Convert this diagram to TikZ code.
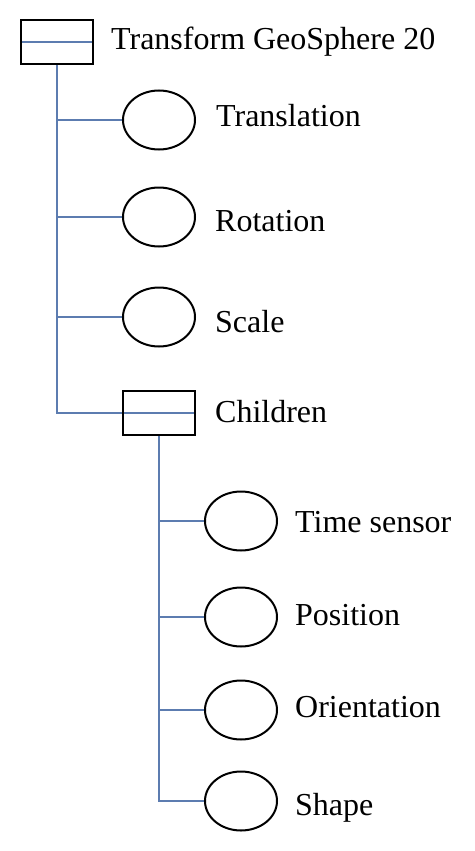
\documentclass[tikz,border=0pt]{standalone}
\usepackage{fontspec}
\setmainfont{Liberation Serif}
\usetikzlibrary{shapes.geometric,backgrounds}
\definecolor{linkblue}{RGB}{92,124,176}
\tikzset{
  box/.style={draw=black,line width=2pt,rectangle,minimum width=72pt,minimum height=44pt,inner sep=0pt},
  oval/.style={draw=black,line width=2pt,ellipse,minimum width=72pt,minimum height=59pt,inner sep=0pt},
  lbl/.style={anchor=base west,inner sep=0pt,font=\fontsize{32}{36}\selectfont},
  link/.style={draw=linkblue,line width=2pt}
}
\begin{document}
\begin{tikzpicture}[x=1pt,y=-1pt]
\useasboundingbox (0,0) rectangle (474,851);
% nodes
\node[box] (top) at (57,42) {};
\node[oval] (trans) at (159,120) {};
\node[oval] (rot) at (159,217) {};
\node[oval] (scale) at (159,317) {};
\node[box] (children) at (159,413) {};
\node[oval] (time) at (241,521) {};
\node[oval] (pos) at (241,617) {};
\node[oval] (orient) at (241,710) {};
\node[oval] (shape) at (241,801) {};
% labels
\node[lbl] (ltop) at (111,50) {Transform GeoSphere 20};
\node[lbl] (ltrans) at (216,126) {Translation};
\node[lbl] (lrot) at (215,231) {Rotation};
\node[lbl] (lscale) at (215,332) {Scale};
\node[lbl] (lchildren) at (215,422) {Children};
\node[lbl] (ltime) at (295,532) {Time sensor};
\node[lbl] (lpos) at (295,625) {Position};
\node[lbl] (lorient) at (295,717) {Orientation};
\node[lbl] (lshape) at (295,815) {Shape};
% connectors
\begin{scope}[on background layer]
\draw[link] (top.west) -- (top.east);
\draw[link] (top.south) -- (top.south |- children.west) -- (children.east);
\draw[link] (top.south |- trans.west) -- (trans.west);
\draw[link] (top.south |- rot.west) -- (rot.west);
\draw[link] (top.south |- scale.west) -- (scale.west);
\draw[link] (children.south) -- (children.south |- shape.west) -- (shape.west);
\draw[link] (children.south |- time.west) -- (time.west);
\draw[link] (children.south |- pos.west) -- (pos.west);
\draw[link] (children.south |- orient.west) -- (orient.west);
\end{scope}
\end{tikzpicture}
\end{document}
